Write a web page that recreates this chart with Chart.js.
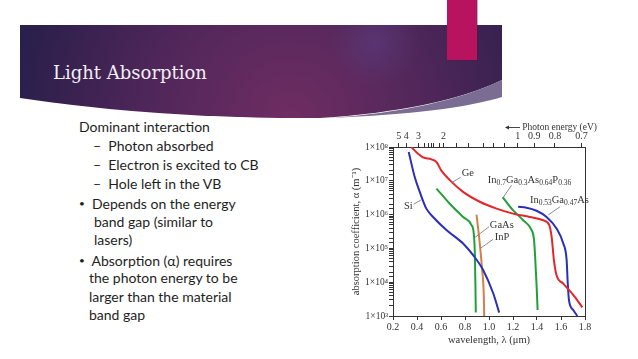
<!DOCTYPE html>
<html>
<head>
<meta charset="utf-8">
<script src="https://cdn.jsdelivr.net/npm/chart.js@4.4.1/dist/chart.umd.min.js"></script>
<style>
  html, body { margin: 0; padding: 0; background: #fff; }
  #slide { position: relative; width: 638px; height: 359px; overflow: hidden; background: #fff; }
  #band { position: absolute; left: 0; top: 0; }
  #title { position: absolute; left: 53px; top: 62px; font-family: "DejaVu Serif", serif; font-size: 18px; color: #f2eff5; }
  .ln { position: absolute; font-family: Lato, "Open Sans", sans-serif; font-size: 14px; line-height: 18px; color: #1e1e1e; white-space: nowrap; }
  .bl { font-size: 10px; vertical-align: 2px; }
  #chartBox { position: absolute; left: 335px; top: 115px; width: 280px; height: 235px; }
</style>
</head>
<body>
<div id="slide">
  <svg id="band" width="638" height="130">
    <defs>
      <radialGradient id="g1" cx="290" cy="118" r="270" gradientUnits="userSpaceOnUse">
        <stop offset="0" stop-color="#6f2d63"/>
        <stop offset="0.55" stop-color="#4e2659"/>
        <stop offset="1" stop-color="#2b1f4b"/>
      </radialGradient>
      <radialGradient id="g2" cx="375" cy="42" r="45" gradientUnits="userSpaceOnUse">
        <stop offset="0" stop-color="#5a3d80" stop-opacity="0.6"/>
        <stop offset="1" stop-color="#5a3d80" stop-opacity="0"/>
      </radialGradient>
    </defs>
    <path d="M20,25 L502,25 L502,80 Q440,110 320,118 Q160,119 20,98 Z" fill="url(#g1)"/>
    <path d="M20,25 L502,25 L502,80 Q440,110 320,118 Q160,119 20,98 Z" fill="url(#g2)"/>
    <path d="M502,80 Q440,110 330,118 Q450,113 502,97 Z" fill="#7b6c94"/>
    <rect x="448" y="0" width="30" height="61" fill="#5a1040" opacity="0.35"/>
    <rect x="447" y="0" width="30" height="60" fill="#b8135f"/>
  </svg>
  <div id="title">Light Absorption</div>

  <div class="ln" style="left:79px; top:118px">Dominant interaction</div>
  <div class="ln" style="left:93px; top:137px">–&nbsp; Photon absorbed</div>
  <div class="ln" style="left:93px; top:156px">–&nbsp; Electron is excited to CB</div>
  <div class="ln" style="left:93px; top:175px">–&nbsp; Hole left in the VB</div>
  <div class="ln" style="left:79px; top:194px"><span class="bl">•</span>&nbsp; Depends on the energy</div>
  <div class="ln" style="left:94px; top:213px">band gap (similar to</div>
  <div class="ln" style="left:94px; top:231px">lasers)</div>
  <div class="ln" style="left:79px; top:251px"><span class="bl">•</span>&nbsp; Absorption (α) requires</div>
  <div class="ln" style="left:89px; top:269px">the photon energy to be</div>
  <div class="ln" style="left:89px; top:288px">larger than the material</div>
  <div class="ln" style="left:89px; top:306px">band gap</div>

  <div id="chartBox"><canvas id="grafico"></canvas></div>
</div>

<script>
// valores (lambda em um, alpha em m^-1)
const siLambda = [0.331, 0.381, 0.423, 0.478, 0.534, 0.645, 0.784, 0.868, 0.951, 1.035, 1.085];
const siAlpha = [7.1e7, 1.3e7, 4.7e6, 1.5e6, 8.5e5, 3.5e5, 1.4e5, 6.3e4, 2.3e4, 4.7e3, 1.26e3];

const geLambda = [0.353, 0.409, 0.45, 0.52, 0.562, 0.603, 0.673, 0.784, 0.923, 1.063, 1.2, 1.34, 1.452, 1.502, 1.522, 1.541, 1.563, 1.619, 1.702, 1.778];
const geAlpha = [1e8, 6.3e7, 4.9e7, 4.3e7, 3.6e7, 2.0e7, 1.05e7, 4.7e6, 2.4e6, 1.5e6, 1.07e6, 8.5e5, 6.8e5, 4.9e5, 2.2e5, 4.5e4, 1.6e4, 9.1e3, 4.2e3, 1.8e3];

const gaasLambda = [0.562, 0.673, 0.784, 0.854, 0.873, 0.882, 0.887, 0.89];
const gaasAlpha = [5.9e6, 2.1e6, 8.5e5, 4.9e5, 2.75e5, 7.1e4, 7.4e3, 1.26e3];

const inpLambda = [0.896, 0.923, 0.943, 0.957, 0.96];
const inpAlpha = [1e6, 1.4e5, 2.3e4, 3.7e3, 1e3];

const ingaaspLambda = [1.113, 1.2, 1.285, 1.355, 1.374, 1.383, 1.397, 1.405];
const ingaaspAlpha = [3.3e6, 1.35e6, 6.8e5, 3.5e5, 1.95e5, 7.1e4, 7.4e3, 1.5e3];

const ingaasLambda = [1.243, 1.313, 1.396, 1.48, 1.563, 1.619, 1.647, 1.655, 1.666, 1.702, 1.736];
const ingaasAlpha = [1.7e6, 1.6e6, 1.3e6, 8.5e5, 3.9e5, 1.4e5, 4.5e4, 1.15e4, 3.0e3, 1.5e3, 1e3];

// eixos
const wavelengthTicks = [0.2, 0.4, 0.6, 0.8, 1.0, 1.2, 1.4, 1.6, 1.8];
const energyMajor = [5, 4, 3, 2, 1, 0.9, 0.8, 0.7];
const energyMinor = [2.7, 2.5, 2.4, 2.3, 2.1, 1.7, 1.5, 1.3, 1.2, 1.1];
const yTickLabels = ['1×10³', '1×10⁴', '1×10⁵', '1×10⁶', '1×10⁷', '1×10⁸'];

const energyAll = energyMajor.concat(energyMinor).sort((a, b) => b - a);

const pts = (xs, ys) => xs.map((x, i) => ({ x: x, y: ys[i] }));

const serif = 'Liberation Serif';

// rótulos das curvas com linha de chamada
const curveLabels = [
  { parts: [['Ge', 0]], at: [0.773, 1.67e7], align: 'left', from: [0.765, 1.28e7], to: [0.682, 8.5e6] },
  { parts: [['Si', 0]], at: [0.364, 1.78e6], align: 'right', from: [0.373, 2.04e6], to: [0.44, 2.8e6] },
  { parts: [['GaAs', 0]], at: [1.007, 4.9e5], align: 'left', from: [1.001, 4.4e5], to: [0.882, 2.1e5] },
  { parts: [['InP', 0]], at: [1.048, 2.2e5], align: 'left', from: [1.035, 1.86e5], to: [0.928, 1.0e5] },
  { parts: [['In', 0], ['0.7', 1], ['Ga', 0], ['0.3', 1], ['As', 0], ['0.64', 1], ['P', 0], ['0.36', 1]], at: [0.99, 1.05e7], align: 'left', from: [1.188, 7.4e6], to: [1.118, 3.2e6] },
  { parts: [['In', 0], ['0.53', 1], ['Ga', 0], ['0.47', 1], ['As', 0]], at: [1.341, 2.7e6], align: 'left', from: [1.591, 1.7e6], to: [1.494, 9.8e5] }
];

const extras = {
  id: 'extras',
  afterDraw(chart) {
    const ctx = chart.ctx;
    const a = chart.chartArea;
    const xs = chart.scales.x;
    const ys = chart.scales.y;
    ctx.save();
    // borda direita
    ctx.strokeStyle = '#333';
    ctx.lineWidth = 1;
    ctx.beginPath();
    ctx.moveTo(a.right + 0.5, a.top);
    ctx.lineTo(a.right + 0.5, a.bottom);
    ctx.stroke();

    // rótulos
    curveLabels.forEach(l => {
      ctx.strokeStyle = '#808080';
      ctx.lineWidth = 0.9;
      ctx.beginPath();
      ctx.moveTo(xs.getPixelForValue(l.from[0]), ys.getPixelForValue(l.from[1]));
      ctx.lineTo(xs.getPixelForValue(l.to[0]), ys.getPixelForValue(l.to[1]));
      ctx.stroke();

      let w = 0;
      l.parts.forEach(p => {
        ctx.font = (p[1] ? '7.5px ' : '10.5px ') + serif;
        w += ctx.measureText(p[0]).width;
      });
      let x = xs.getPixelForValue(l.at[0]);
      const y = ys.getPixelForValue(l.at[1]);
      if (l.align === 'right') x -= w;
      ctx.fillStyle = '#333';
      ctx.textBaseline = 'middle';
      ctx.textAlign = 'left';
      l.parts.forEach(p => {
        ctx.font = (p[1] ? '7.5px ' : '10.5px ') + serif;
        ctx.fillText(p[0], x, p[1] ? y + 3 : y);
        x += ctx.measureText(p[0]).width;
      });
    });

    // título do eixo de energia
    ctx.font = '9.5px ' + serif;
    ctx.fillStyle = '#333';
    ctx.textAlign = 'right';
    ctx.textBaseline = 'middle';
    ctx.fillText('Photon energy (eV)', 262, 12);
    ctx.strokeStyle = '#333';
    ctx.lineWidth = 0.9;
    ctx.beginPath();
    ctx.moveTo(171, 12.5);
    ctx.lineTo(185, 12.5);
    ctx.stroke();
    ctx.beginPath();
    ctx.moveTo(170, 12.5);
    ctx.lineTo(174, 10.5);
    ctx.lineTo(174, 14.5);
    ctx.closePath();
    ctx.fillStyle = '#333';
    ctx.fill();
    ctx.restore();
  }
};

const lineStyle = (color) => ({
  borderColor: color,
  backgroundColor: color,
  borderWidth: 2,
  pointRadius: 0,
  fill: false,
  cubicInterpolationMode: 'monotone'
});

const tickFont = { family: serif, size: 10 };
const gridOpts = { display: true, drawOnChartArea: false, drawTicks: true, tickLength: 4, color: '#333', tickColor: '#333' };

const ctx = document.getElementById('grafico').getContext('2d');

const grafico = new Chart(ctx, {
  type: 'line',
  data: {
    datasets: [
      { label: 'Si', data: pts(siLambda, siAlpha), ...lineStyle('#2a2fb8') },
      { label: 'Ge', data: pts(geLambda, geAlpha), ...lineStyle('#e3262a') },
      { label: 'GaAs', data: pts(gaasLambda, gaasAlpha), ...lineStyle('#21a038') },
      { label: 'InP', data: pts(inpLambda, inpAlpha), ...lineStyle('#d2804a') },
      { label: 'InGaAsP', data: pts(ingaaspLambda, ingaaspAlpha), ...lineStyle('#21a038') },
      { label: 'InGaAs', data: pts(ingaasLambda, ingaasAlpha), ...lineStyle('#2a2fb8') }
    ]
  },
  options: {
    responsive: true,
    maintainAspectRatio: false,
    animation: false,
    layout: { padding: { left: 15, top: 10, right: 30, bottom: 0 } },
    plugins: { legend: { display: false }, tooltip: { enabled: false } },
    scales: {
      x: {
        type: 'linear',
        min: 0.2,
        max: 1.8,
        afterBuildTicks: scale => { scale.ticks = wavelengthTicks.map(v => ({ value: v })); },
        afterFit: scale => { scale.height = 34; },
        ticks: { font: tickFont, color: '#333', padding: 1, autoSkip: false, maxRotation: 0, callback: v => v.toFixed(1) },
        grid: gridOpts,
        border: { color: '#333', width: 1 },
        title: { display: true, text: 'wavelength, λ (μm)', font: { family: serif, size: 10.5 }, color: '#333', padding: { top: 0, bottom: 3 } }
      },
      x2: {
        type: 'linear',
        position: 'top',
        min: 0.2,
        max: 1.8,
        afterBuildTicks: scale => { scale.ticks = energyAll.map(e => ({ value: 1.24 / e })); },
        afterFit: scale => { scale.height = 22; },
        ticks: {
          font: tickFont, color: '#333', padding: 1, autoSkip: false, maxRotation: 0,
          callback: (v, i) => energyMajor.includes(energyAll[i]) ? String(energyAll[i]) : ''
        },
        grid: gridOpts,
        border: { color: '#333', width: 1 }
      },
      y: {
        type: 'logarithmic',
        min: 1e3,
        max: 1e8,
        afterFit: scale => { scale.width = 43; },
        ticks: {
          font: { family: serif, size: 9.5 }, color: '#333', padding: 1, autoSkip: false,
          callback: v => {
            const e = Math.log10(v);
            return Math.abs(e - Math.round(e)) < 1e-6 ? yTickLabels[Math.round(e) - 3] : '';
          }
        },
        grid: gridOpts,
        border: { color: '#333', width: 1 },
        title: { display: true, text: 'absorption coefficient, α (m⁻¹)', font: { family: serif, size: 10.5 }, color: '#333', padding: { top: 0, bottom: 0 } }
      }
    }
  },
  plugins: [extras]
});
</script>
</body>
</html>
